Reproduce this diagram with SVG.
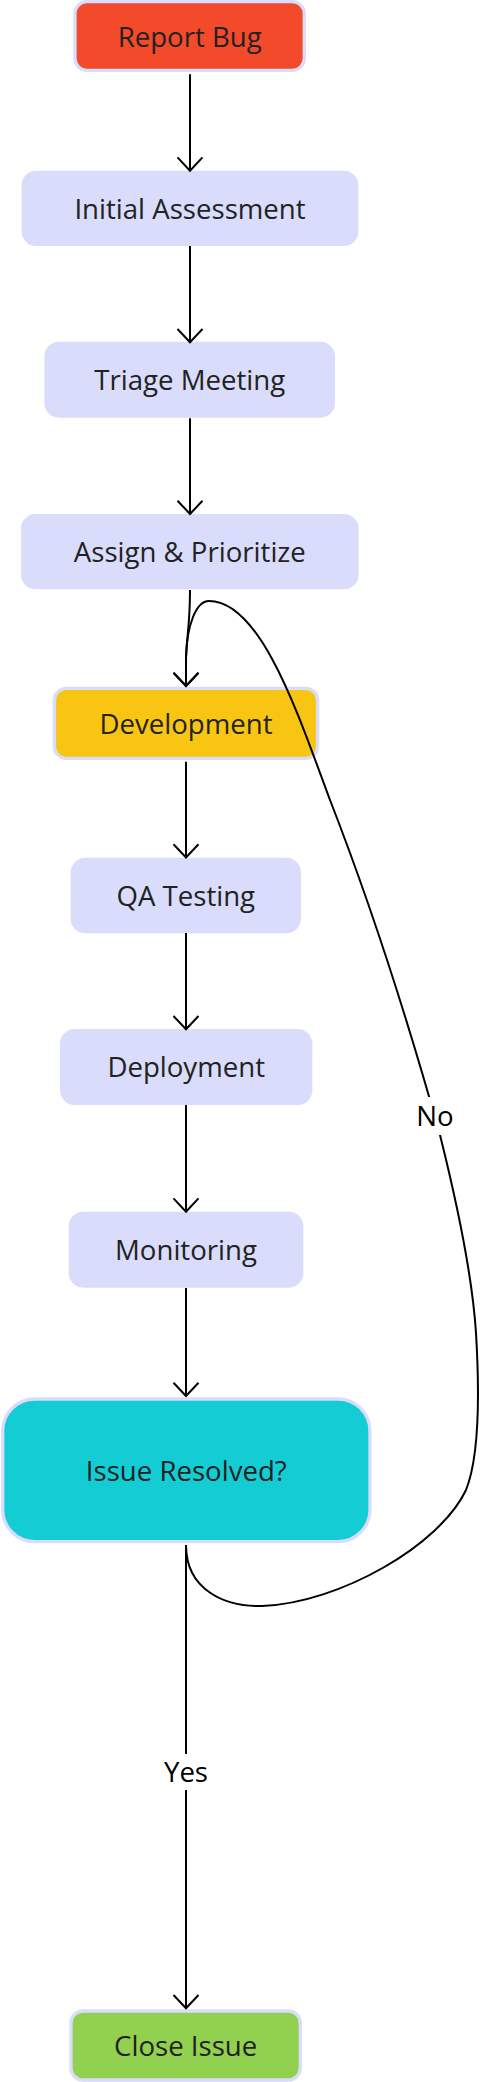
<svg xmlns="http://www.w3.org/2000/svg" width="480" height="2082" viewBox="0 0 480 2082">
<style>
.node rect{fill:#D9DCFA;stroke:#D9DCFA;stroke-width:3.3}
.lbl{font-family:"Open Sans","Noto Sans",sans-serif;font-size:27.6px;fill:#222;text-anchor:middle}
.edge{fill:none;stroke:#000;stroke-width:2}
.elbl{font-family:"Open Sans","Noto Sans",sans-serif;font-size:27.6px;fill:#000;text-anchor:middle}
</style>
<defs>
<marker id="arr" markerUnits="userSpaceOnUse" markerWidth="40" markerHeight="40" refX="0" refY="0" orient="auto" overflow="visible" viewBox="-20 -20 40 40">
<path d="M-13.3,-12.5 L0,0 L-13.3,12.5" fill="none" stroke="#000" stroke-width="2"/>
</marker>
</defs>
<rect x="0" y="0" width="480" height="2082" fill="#fff"/>
<g id="n-report" class="node">
<rect x="75" y="1.65" width="229.3" height="68.7" rx="12" style="fill:#F24A2A"/>
<text class="lbl" x="189.7" y="46.5">Report Bug</text>
</g>
<g id="n-initial" class="node">
<rect x="23.3" y="172.3" width="333.4" height="72" rx="13"/>
<text class="lbl" x="190" y="218.5">Initial Assessment</text>
</g>
<g id="n-triage" class="node">
<rect x="46" y="343.3" width="287.3" height="72.7" rx="13"/>
<text class="lbl" x="189.7" y="389.5">Triage Meeting</text>
</g>
<g id="n-assign" class="node">
<rect x="22.7" y="515.7" width="334.3" height="72" rx="13"/>
<text class="lbl" x="189.8" y="561.7">Assign &amp; Prioritize</text>
</g>
<g id="n-dev" class="node">
<rect x="54.4" y="688.4" width="263.2" height="70" rx="12" style="fill:#F8C612"/>
<text class="lbl" x="186" y="733.5">Development</text>
</g>
<g id="n-qa" class="node">
<rect x="72.3" y="859.3" width="227" height="72.4" rx="13"/>
<text class="lbl" x="185.8" y="906">QA Testing</text>
</g>
<g id="n-deploy" class="node">
<rect x="61.7" y="1030.7" width="249" height="72.6" rx="13"/>
<text class="lbl" x="186.2" y="1077.3">Deployment</text>
</g>
<g id="n-monitor" class="node">
<rect x="70.3" y="1213.3" width="231.4" height="72.7" rx="13"/>
<text class="lbl" x="186" y="1260">Monitoring</text>
</g>
<g id="n-resolved" class="node">
<rect x="2.7" y="1399" width="367.3" height="142.6" rx="32" style="fill:#13CCD4"/>
<text class="lbl" x="186.3" y="1480.5">Issue Resolved?</text>
</g>
<g id="n-close" class="node">
<rect x="71" y="2011" width="229.3" height="69" rx="12" style="fill:#92D050"/>
<text class="lbl" x="185.7" y="2055.5">Close Issue</text>
</g>
<g id="connectors">
<path class="edge" marker-end="url(#arr)" d="M190,74.3 L190,170.7"/>
<path class="edge" marker-end="url(#arr)" d="M190,246 L190,342.3"/>
<path class="edge" marker-end="url(#arr)" d="M190,418.3 L190,514"/>
<path class="edge" marker-end="url(#arr)" d="M190,590 C190,628 186,640 186,662 L186,686"/>
<path class="edge" marker-end="url(#arr)" d="M186,761.7 L186,857.5"/>
<path class="edge" marker-end="url(#arr)" d="M186,933 L186,1029.3"/>
<path class="edge" marker-end="url(#arr)" d="M186,1105 L186,1211.7"/>
<path class="edge" marker-end="url(#arr)" d="M186,1288 L186,1396"/>
<path class="edge" marker-end="url(#arr)" d="M186,1545 L186,2008.3"/>
<path class="edge" marker-end="url(#arr)" d="M186,1545 C186,1590 225,1607 262,1606 C340,1603 440,1545 466,1490 C478,1460 480,1400 476,1333 C472,1270 455,1195 440,1135 C408.6,1023 373.7,912 330,800 C300,720 262,601 209,601 C196,601 187,625 186,657 L186,686"/>
<rect x="414" y="1097" width="42" height="38" fill="#fff"/>
<text class="elbl" x="435" y="1126">No</text>
<rect x="162" y="1754" width="48" height="36" fill="#fff"/>
<text class="elbl" x="186" y="1782">Yes</text>
</g>
</svg>
